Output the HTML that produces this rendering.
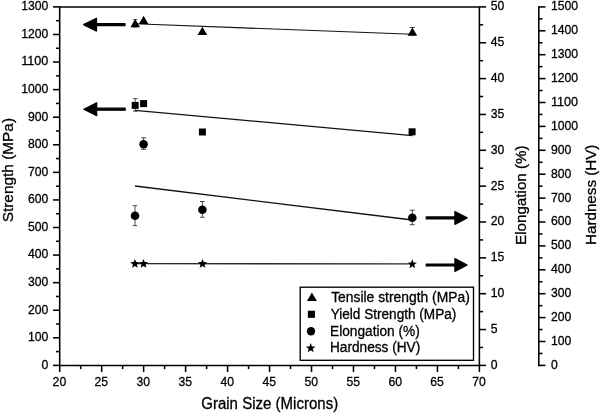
<!DOCTYPE html><html><head><meta charset="utf-8"><title>Chart</title><style>html,body{margin:0;padding:0;background:#fff}svg{display:block}text{font-family:"Liberation Sans",Arial,sans-serif;fill:#000}</style></head><body>
<svg width="600" height="414" viewBox="0 0 600 414">
<rect width="600" height="414" fill="#fff"/>
<g stroke="#000" stroke-width="1.55" fill="none" stroke-linecap="square">
<path d="M59.7 6.9H479.4V365.4H59.7Z"/>
<path d="M538.8 6.9V365.4"/>
</g>
<g stroke="#000" stroke-width="1.55" fill="none">
<path d="M59.7 365.40h-6.7"/>
<path d="M59.7 351.61h-3.7"/>
<path d="M59.7 337.82h-6.7"/>
<path d="M59.7 324.03h-3.7"/>
<path d="M59.7 310.25h-6.7"/>
<path d="M59.7 296.46h-3.7"/>
<path d="M59.7 282.67h-6.7"/>
<path d="M59.7 268.88h-3.7"/>
<path d="M59.7 255.09h-6.7"/>
<path d="M59.7 241.30h-3.7"/>
<path d="M59.7 227.52h-6.7"/>
<path d="M59.7 213.73h-3.7"/>
<path d="M59.7 199.94h-6.7"/>
<path d="M59.7 186.15h-3.7"/>
<path d="M59.7 172.36h-6.7"/>
<path d="M59.7 158.57h-3.7"/>
<path d="M59.7 144.78h-6.7"/>
<path d="M59.7 131.00h-3.7"/>
<path d="M59.7 117.21h-6.7"/>
<path d="M59.7 103.42h-3.7"/>
<path d="M59.7 89.63h-6.7"/>
<path d="M59.7 75.84h-3.7"/>
<path d="M59.7 62.05h-6.7"/>
<path d="M59.7 48.27h-3.7"/>
<path d="M59.7 34.48h-6.7"/>
<path d="M59.7 20.69h-3.7"/>
<path d="M59.7 6.90h-6.7"/>
<path d="M59.70 365.4v6.7"/>
<path d="M80.69 365.4v3.7"/>
<path d="M101.67 365.4v6.7"/>
<path d="M122.66 365.4v3.7"/>
<path d="M143.64 365.4v6.7"/>
<path d="M164.62 365.4v3.7"/>
<path d="M185.61 365.4v6.7"/>
<path d="M206.60 365.4v3.7"/>
<path d="M227.58 365.4v6.7"/>
<path d="M248.56 365.4v3.7"/>
<path d="M269.55 365.4v6.7"/>
<path d="M290.54 365.4v3.7"/>
<path d="M311.52 365.4v6.7"/>
<path d="M332.50 365.4v3.7"/>
<path d="M353.49 365.4v6.7"/>
<path d="M374.47 365.4v3.7"/>
<path d="M395.46 365.4v6.7"/>
<path d="M416.44 365.4v3.7"/>
<path d="M437.43 365.4v6.7"/>
<path d="M458.41 365.4v3.7"/>
<path d="M479.40 365.4v6.7"/>
<path d="M479.4 365.40h6.7"/>
<path d="M479.4 347.47h3.7"/>
<path d="M479.4 329.55h6.7"/>
<path d="M479.4 311.62h3.7"/>
<path d="M479.4 293.70h6.7"/>
<path d="M479.4 275.77h3.7"/>
<path d="M479.4 257.85h6.7"/>
<path d="M479.4 239.92h3.7"/>
<path d="M479.4 222.00h6.7"/>
<path d="M479.4 204.07h3.7"/>
<path d="M479.4 186.15h6.7"/>
<path d="M479.4 168.22h3.7"/>
<path d="M479.4 150.30h6.7"/>
<path d="M479.4 132.37h3.7"/>
<path d="M479.4 114.45h6.7"/>
<path d="M479.4 96.52h3.7"/>
<path d="M479.4 78.60h6.7"/>
<path d="M479.4 60.67h3.7"/>
<path d="M479.4 42.75h6.7"/>
<path d="M479.4 24.82h3.7"/>
<path d="M479.4 6.90h6.7"/>
<path d="M538.8 365.40h6.7"/>
<path d="M538.8 353.45h3.7"/>
<path d="M538.8 341.50h6.7"/>
<path d="M538.8 329.55h3.7"/>
<path d="M538.8 317.60h6.7"/>
<path d="M538.8 305.65h3.7"/>
<path d="M538.8 293.70h6.7"/>
<path d="M538.8 281.75h3.7"/>
<path d="M538.8 269.80h6.7"/>
<path d="M538.8 257.85h3.7"/>
<path d="M538.8 245.90h6.7"/>
<path d="M538.8 233.95h3.7"/>
<path d="M538.8 222.00h6.7"/>
<path d="M538.8 210.05h3.7"/>
<path d="M538.8 198.10h6.7"/>
<path d="M538.8 186.15h3.7"/>
<path d="M538.8 174.20h6.7"/>
<path d="M538.8 162.25h3.7"/>
<path d="M538.8 150.30h6.7"/>
<path d="M538.8 138.35h3.7"/>
<path d="M538.8 126.40h6.7"/>
<path d="M538.8 114.45h3.7"/>
<path d="M538.8 102.50h6.7"/>
<path d="M538.8 90.55h3.7"/>
<path d="M538.8 78.60h6.7"/>
<path d="M538.8 66.65h3.7"/>
<path d="M538.8 54.70h6.7"/>
<path d="M538.8 42.75h3.7"/>
<path d="M538.8 30.80h6.7"/>
<path d="M538.8 18.85h3.7"/>
<path d="M538.8 6.90h6.7"/>
</g>
<g font-size="13" stroke="#000" stroke-width="0.3">
<text x="48.30" y="368.80" text-anchor="end" textLength="6.78" lengthAdjust="spacingAndGlyphs">0</text>
<text x="48.30" y="341.22" text-anchor="end" textLength="20.34" lengthAdjust="spacingAndGlyphs">100</text>
<text x="48.30" y="313.65" text-anchor="end" textLength="20.34" lengthAdjust="spacingAndGlyphs">200</text>
<text x="48.30" y="286.07" text-anchor="end" textLength="20.34" lengthAdjust="spacingAndGlyphs">300</text>
<text x="48.30" y="258.49" text-anchor="end" textLength="20.34" lengthAdjust="spacingAndGlyphs">400</text>
<text x="48.30" y="230.92" text-anchor="end" textLength="20.34" lengthAdjust="spacingAndGlyphs">500</text>
<text x="48.30" y="203.34" text-anchor="end" textLength="20.34" lengthAdjust="spacingAndGlyphs">600</text>
<text x="48.30" y="175.76" text-anchor="end" textLength="20.34" lengthAdjust="spacingAndGlyphs">700</text>
<text x="48.30" y="148.18" text-anchor="end" textLength="20.34" lengthAdjust="spacingAndGlyphs">800</text>
<text x="48.30" y="120.61" text-anchor="end" textLength="20.34" lengthAdjust="spacingAndGlyphs">900</text>
<text x="48.30" y="93.03" text-anchor="end" textLength="27.12" lengthAdjust="spacingAndGlyphs">1000</text>
<text x="48.30" y="65.45" text-anchor="end" textLength="27.12" lengthAdjust="spacingAndGlyphs">1100</text>
<text x="48.30" y="37.88" text-anchor="end" textLength="27.12" lengthAdjust="spacingAndGlyphs">1200</text>
<text x="48.30" y="10.30" text-anchor="end" textLength="27.12" lengthAdjust="spacingAndGlyphs">1300</text>
<text x="59.40" y="385.60" text-anchor="middle" textLength="13.56" lengthAdjust="spacingAndGlyphs">20</text>
<text x="101.37" y="385.60" text-anchor="middle" textLength="13.56" lengthAdjust="spacingAndGlyphs">25</text>
<text x="143.34" y="385.60" text-anchor="middle" textLength="13.56" lengthAdjust="spacingAndGlyphs">30</text>
<text x="185.31" y="385.60" text-anchor="middle" textLength="13.56" lengthAdjust="spacingAndGlyphs">35</text>
<text x="227.28" y="385.60" text-anchor="middle" textLength="13.56" lengthAdjust="spacingAndGlyphs">40</text>
<text x="269.25" y="385.60" text-anchor="middle" textLength="13.56" lengthAdjust="spacingAndGlyphs">45</text>
<text x="311.22" y="385.60" text-anchor="middle" textLength="13.56" lengthAdjust="spacingAndGlyphs">50</text>
<text x="353.19" y="385.60" text-anchor="middle" textLength="13.56" lengthAdjust="spacingAndGlyphs">55</text>
<text x="395.16" y="385.60" text-anchor="middle" textLength="13.56" lengthAdjust="spacingAndGlyphs">60</text>
<text x="437.13" y="385.60" text-anchor="middle" textLength="13.56" lengthAdjust="spacingAndGlyphs">65</text>
<text x="479.10" y="385.60" text-anchor="middle" textLength="13.56" lengthAdjust="spacingAndGlyphs">70</text>
<text x="490.70" y="368.80" text-anchor="start" textLength="6.78" lengthAdjust="spacingAndGlyphs">0</text>
<text x="490.70" y="332.95" text-anchor="start" textLength="6.78" lengthAdjust="spacingAndGlyphs">5</text>
<text x="490.70" y="297.10" text-anchor="start" textLength="13.56" lengthAdjust="spacingAndGlyphs">10</text>
<text x="490.70" y="261.25" text-anchor="start" textLength="13.56" lengthAdjust="spacingAndGlyphs">15</text>
<text x="490.70" y="225.40" text-anchor="start" textLength="13.56" lengthAdjust="spacingAndGlyphs">20</text>
<text x="490.70" y="189.55" text-anchor="start" textLength="13.56" lengthAdjust="spacingAndGlyphs">25</text>
<text x="490.70" y="153.70" text-anchor="start" textLength="13.56" lengthAdjust="spacingAndGlyphs">30</text>
<text x="490.70" y="117.85" text-anchor="start" textLength="13.56" lengthAdjust="spacingAndGlyphs">35</text>
<text x="490.70" y="82.00" text-anchor="start" textLength="13.56" lengthAdjust="spacingAndGlyphs">40</text>
<text x="490.70" y="46.15" text-anchor="start" textLength="13.56" lengthAdjust="spacingAndGlyphs">45</text>
<text x="490.70" y="10.30" text-anchor="start" textLength="13.56" lengthAdjust="spacingAndGlyphs">50</text>
<text x="550.90" y="368.80" text-anchor="start" textLength="6.78" lengthAdjust="spacingAndGlyphs">0</text>
<text x="550.90" y="344.90" text-anchor="start" textLength="20.34" lengthAdjust="spacingAndGlyphs">100</text>
<text x="550.90" y="321.00" text-anchor="start" textLength="20.34" lengthAdjust="spacingAndGlyphs">200</text>
<text x="550.90" y="297.10" text-anchor="start" textLength="20.34" lengthAdjust="spacingAndGlyphs">300</text>
<text x="550.90" y="273.20" text-anchor="start" textLength="20.34" lengthAdjust="spacingAndGlyphs">400</text>
<text x="550.90" y="249.30" text-anchor="start" textLength="20.34" lengthAdjust="spacingAndGlyphs">500</text>
<text x="550.90" y="225.40" text-anchor="start" textLength="20.34" lengthAdjust="spacingAndGlyphs">600</text>
<text x="550.90" y="201.50" text-anchor="start" textLength="20.34" lengthAdjust="spacingAndGlyphs">700</text>
<text x="550.90" y="177.60" text-anchor="start" textLength="20.34" lengthAdjust="spacingAndGlyphs">800</text>
<text x="550.90" y="153.70" text-anchor="start" textLength="20.34" lengthAdjust="spacingAndGlyphs">900</text>
<text x="550.90" y="129.80" text-anchor="start" textLength="27.12" lengthAdjust="spacingAndGlyphs">1000</text>
<text x="550.90" y="105.90" text-anchor="start" textLength="27.12" lengthAdjust="spacingAndGlyphs">1100</text>
<text x="550.90" y="82.00" text-anchor="start" textLength="27.12" lengthAdjust="spacingAndGlyphs">1200</text>
<text x="550.90" y="58.10" text-anchor="start" textLength="27.12" lengthAdjust="spacingAndGlyphs">1300</text>
<text x="550.90" y="34.20" text-anchor="start" textLength="27.12" lengthAdjust="spacingAndGlyphs">1400</text>
<text x="550.90" y="10.30" text-anchor="start" textLength="27.12" lengthAdjust="spacingAndGlyphs">1500</text>
</g>
<g stroke="#000" stroke-width="0.3">
<text x="201.2" y="409.2" font-size="15.6" textLength="137" lengthAdjust="spacingAndGlyphs">Grain Size (Microns)</text>
<text transform="translate(12.6 222.3) rotate(-90)" font-size="15.4">Strength (MPa)</text>
<text transform="translate(526.0 245) rotate(-90)" font-size="15.2">Elongation (%)</text>
<text transform="translate(595.6 245) rotate(-90)" font-size="15.2">Hardness (HV)</text>
</g>
<g stroke="#111" stroke-width="1.3" fill="none">
<path d="M135.0 23.8L412.4 34.2" stroke-width="1.15"/>
<path d="M135.0 110.3L412.4 135.6"/>
<path d="M135.0 186.0L412.4 220.0"/>
<path d="M135.0 263.6L412.4 263.9" stroke="#2a2a2a" stroke-width="1.4"/>
</g>
<g stroke="#222" stroke-width="0.8" fill="none">
<path d="M135.2 98.6V111.2M132.89999999999998 98.6h4.6M132.89999999999998 111.2h4.6"/>
<path d="M143.6 137.8V149.3M141.1 137.8h5M141.1 149.3h5"/>
<path d="M135.0 205.7V225.6M132.7 205.7h4.6M132.7 225.6h4.6"/>
<path d="M202.4 201.5V217.3M200.1 201.5h4.6M200.1 217.3h4.6"/>
<path d="M412.3 210.2V224.7M409.8 210.2h5M409.8 224.7h5"/>
<path d="M135.2 19.6V27M133.2 19.6h4M133.2 27h4"/>
<path d="M412.3 27.5V35M409.6 27.5h5.4M409.6 35h5.4"/>
</g>
<g fill="#000" stroke="none">
<path d="M135.2 19.10L140.00 27.30H130.40Z"/>
<path d="M143.6 15.70L148.40 23.90H138.80Z"/>
<path d="M202.4 26.70L207.20 34.90H197.60Z"/>
<path d="M412.4 27.60L417.20 35.80H407.60Z"/>
<rect x="131.70" y="101.90" width="7" height="7"/>
<rect x="140.10" y="100.10" width="7" height="7"/>
<rect x="198.90" y="128.50" width="7" height="7"/>
<rect x="408.60" y="128.30" width="7" height="7"/>
<circle cx="135.0" cy="215.8" r="4.3"/>
<circle cx="143.6" cy="144.3" r="4.3"/>
<circle cx="202.4" cy="209.7" r="4.3"/>
<circle cx="412.3" cy="217.7" r="4.3"/>
<polygon points="134.90,258.90 136.14,262.10 139.56,262.29 136.90,264.45 137.78,267.76 134.90,265.91 132.02,267.76 132.90,264.45 130.24,262.29 133.66,262.10"/>
<polygon points="143.50,258.90 144.74,262.10 148.16,262.29 145.50,264.45 146.38,267.76 143.50,265.91 140.62,267.76 141.50,264.45 138.84,262.29 142.26,262.10"/>
<polygon points="202.50,258.90 203.74,262.10 207.16,262.29 204.50,264.45 205.38,267.76 202.50,265.91 199.62,267.76 200.50,264.45 197.84,262.29 201.26,262.10"/>
<polygon points="412.30,259.30 413.54,262.50 416.96,262.69 414.30,264.85 415.18,268.16 412.30,266.31 409.42,268.16 410.30,264.85 407.64,262.69 411.06,262.50"/>
</g>
<g fill="#000" stroke="#000" stroke-width="1.2" stroke-linejoin="round">
<path d="M83.6 24.65L96.5 18.2V23.65H125.0V25.65H96.5V31.099999999999998Z"/>
<path d="M83.8 109.2L96.7 102.75V108.2H125.2V110.2H96.7V115.65Z"/>
<path d="M467.2 217.9L454.9 211.45000000000002V216.9H426.2V218.9H454.9V224.35Z"/>
<path d="M467.2 265.0L454.9 258.55V264.0H426.2V266.0H454.9V271.45Z"/>
</g>
<rect x="300.2" y="287.2" width="173.3" height="73.1" fill="#fff" stroke="#000" stroke-width="1.35"/>
<g fill="#000">
<path d="M311.9 292.60L316.90 301.00H306.90Z"/>
<rect x="307.85" y="310.75" width="7.1" height="7.1"/>
<circle cx="311.0" cy="331.3" r="4.2"/>
<polygon points="310.70,343.10 311.96,346.47 315.55,346.62 312.74,348.86 313.70,352.33 310.70,350.34 307.70,352.33 308.66,348.86 305.85,346.62 309.44,346.47"/>
</g>
<g font-size="14" stroke="#000" stroke-width="0.3">
<text x="331.2" y="302.4" textLength="138.6" lengthAdjust="spacingAndGlyphs">Tensile strength (MPa)</text>
<text x="330.7" y="319.0" textLength="125.6" lengthAdjust="spacingAndGlyphs">Yield Strength (MPa)</text>
<text x="330.0" y="335.6" textLength="89.8" lengthAdjust="spacingAndGlyphs">Elongation (%)</text>
<text x="330.0" y="352.3" textLength="90.2" lengthAdjust="spacingAndGlyphs">Hardness (HV)</text>
</g>
</svg></body></html>
